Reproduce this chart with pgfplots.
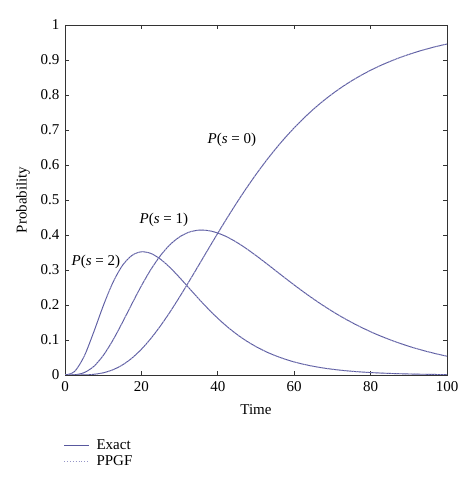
\documentclass[border=0pt]{standalone}
\usepackage{fontspec}
\setmainfont{Liberation Serif}
\usepackage{pgfplots}
\usepackage{pgfplotstable}
\pgfplotsset{compat=1.18}

\definecolor{curve}{RGB}{88,88,158}
\definecolor{ppgf}{RGB}{150,150,200}

% t, P(s=0), P(s=1), P(s=2)
\pgfplotstableread{
t     p0       p1       p2
0     0        0        0
2.5   0.00001  0.00058  0.00980
5     0.00033  0.00665  0.05314
7.5   0.00193  0.02428  0.12194
10    0.00625  0.05557  0.19714
12.5  0.01474  0.09867  0.26342
15    0.02849  0.14940  0.31239
17.5  0.04809  0.20294  0.34151
20    0.07360  0.25488  0.35201
22.5  0.10463  0.30179  0.34714
25    0.14049  0.34139  0.33082
27.5  0.18029  0.37243  0.30681
30    0.22304  0.39458  0.27836
32.5  0.26778  0.40812  0.24804
35    0.31358  0.41379  0.21775
37.5  0.35961  0.41259  0.18877
40    0.40519  0.40561  0.16193
42.5  0.44971  0.39399  0.13765
45    0.49274  0.37876  0.11610
47.5  0.53391  0.36091  0.09728
50    0.57299  0.34125  0.08105
52.5  0.60982  0.32053  0.06718
55    0.64430  0.29931  0.05544
57.5  0.67643  0.27808  0.04558
60    0.70620  0.25720  0.03736
62.5  0.73369  0.23697  0.03052
65    0.75897  0.21757  0.02487
67.5  0.78215  0.19916  0.02022
70    0.80333  0.18181  0.01641
72.5  0.82265  0.16558  0.01329
75    0.84023  0.15049  0.01075
77.5  0.85618  0.13652  0.00868
80    0.87065  0.12364  0.00700
82.5  0.88374  0.11181  0.00564
85    0.89556  0.10098  0.00454
87.5  0.90624  0.09109  0.00365
90    0.91587  0.08209  0.00293
92.5  0.92454  0.07391  0.00235
95    0.93235  0.06649  0.00190
97.5  0.93937  0.05978  0.00152
100   0.94568  0.05370  0.00121
}\probs

\newcommand{\fs}{\fontsize{15}{17}\selectfont}

\begin{document}
\begin{tikzpicture}
\path[use as bounding box] (0pt,0pt) rectangle (474pt,489pt);
\begin{axis}[
    at={(65pt,114pt)}, anchor=south west,
    scale only axis,
    width=382pt, height=350pt,
    xmin=0, xmax=100, ymin=0, ymax=1,
    xtick={0,20,40,60,80,100},
    ytick={0,0.1,0.2,0.3,0.4,0.5,0.6,0.7,0.8,0.9,1},
    tick align=inside,
    major tick length=4pt,
    axis line style={black!80, line width=0.8pt},
    tick style={black!80, line width=0.7pt},
    /pgf/number format/assume math mode=true,
    tick label style={font=\fs},
    xticklabel style={yshift=-3pt},
    yticklabel style={xshift=-2pt},
    label style={font=\fs},
    xlabel={Time}, ylabel={Probability},
    xlabel style={at={(axis description cs:0.5,-0.1)}, anchor=center},
    ylabel style={at={(axis description cs:-0.11,0.5)}, anchor=center},
    legend image code/.code={\draw[#1] (0pt,0pt) -- (25pt,0pt);},
    legend style={at={(axis description cs:-0.012,-0.172)}, anchor=north west,
        draw=none, fill=none, font=\fs, column sep=5pt,
        row sep=1pt, legend cell align=left},
    every axis plot/.append style={smooth, line width=0.9pt},
]
\addplot[curve] table[x=t, y=p0] {\probs};
\addlegendentry{Exact}
\addplot[ppgf, dotted] table[x=t, y=p0] {\probs};
\addlegendentry{PPGF}
\addplot[curve, forget plot] table[x=t, y=p1] {\probs};
\addplot[curve, forget plot] table[x=t, y=p2] {\probs};
\addplot[ppgf, dotted, forget plot] table[x=t, y=p1] {\probs};
\addplot[ppgf, dotted, forget plot] table[x=t, y=p2] {\probs};

\node[font=\fs] at (axis cs:43.7,0.671) {\textit{P}(\textit{s} = 0)};
\node[font=\fs] at (axis cs:25.9,0.443) {\textit{P}(\textit{s} = 1)};
\node[font=\fs] at (axis cs:8.1,0.323) {\textit{P}(\textit{s} = 2)};
\end{axis}
\end{tikzpicture}
\end{document}
